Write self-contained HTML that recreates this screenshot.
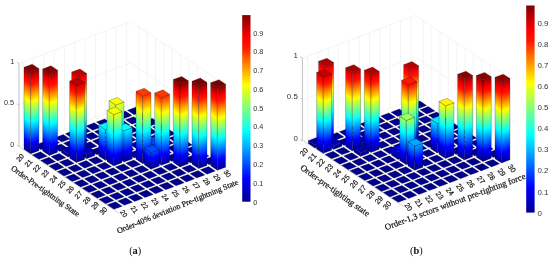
<!DOCTYPE html>
<html lang="en"><head><meta charset="utf-8"><title>MAC bar charts</title>
<style>html,body{margin:0;padding:0;background:#fff}svg{display:block}</style></head><body>
<svg width="550" height="261" viewBox="0 0 550 261">
<defs>
<linearGradient id="gla" gradientUnits="userSpaceOnUse" x1="-4.14" y1="1.56" x2="34.16" y2="-55.92"><stop offset="0" stop-color="#00008f"/><stop offset="0.125" stop-color="#0000ff"/><stop offset="0.375" stop-color="#00ffff"/><stop offset="0.625" stop-color="#ffff00"/><stop offset="0.75" stop-color="#ff7400"/><stop offset="0.83" stop-color="#ff1400"/><stop offset="0.885" stop-color="#fa0000"/><stop offset="1" stop-color="#800000"/></linearGradient>
<linearGradient id="gra" gradientUnits="userSpaceOnUse" x1="3.33" y1="2.22" x2="-24.07" y2="-70.44"><stop offset="0" stop-color="#00008f"/><stop offset="0.125" stop-color="#0000ff"/><stop offset="0.375" stop-color="#00ffff"/><stop offset="0.625" stop-color="#ffff00"/><stop offset="0.75" stop-color="#ff7400"/><stop offset="0.83" stop-color="#ff1400"/><stop offset="0.885" stop-color="#fa0000"/><stop offset="1" stop-color="#800000"/></linearGradient>
<linearGradient id="glb" gradientUnits="userSpaceOnUse" x1="-4.14" y1="1.57" x2="33.86" y2="-56.61"><stop offset="0" stop-color="#00008f"/><stop offset="0.125" stop-color="#0000ff"/><stop offset="0.375" stop-color="#00ffff"/><stop offset="0.625" stop-color="#ffff00"/><stop offset="0.75" stop-color="#ff7400"/><stop offset="0.83" stop-color="#ff1400"/><stop offset="0.885" stop-color="#fa0000"/><stop offset="1" stop-color="#800000"/></linearGradient>
<linearGradient id="grb" gradientUnits="userSpaceOnUse" x1="3.33" y1="2.18" x2="-24.23" y2="-70.35"><stop offset="0" stop-color="#00008f"/><stop offset="0.125" stop-color="#0000ff"/><stop offset="0.375" stop-color="#00ffff"/><stop offset="0.625" stop-color="#ffff00"/><stop offset="0.75" stop-color="#ff7400"/><stop offset="0.83" stop-color="#ff1400"/><stop offset="0.885" stop-color="#fa0000"/><stop offset="1" stop-color="#800000"/></linearGradient>
<linearGradient id="gc" x1="0" y1="1" x2="0" y2="0"><stop offset="0" stop-color="#00008f"/><stop offset="0.125" stop-color="#0000ff"/><stop offset="0.375" stop-color="#00ffff"/><stop offset="0.625" stop-color="#ffff00"/><stop offset="0.75" stop-color="#ff7400"/><stop offset="0.83" stop-color="#ff1400"/><stop offset="0.885" stop-color="#fa0000"/><stop offset="1" stop-color="#800000"/></linearGradient>
</defs>
<rect width="550" height="261" fill="#fff"/>
<g id="chart-a">
<g fill="none" stroke-linecap="butt">
<line x1="23.14" y1="144.94" x2="23.14" y2="61.94" stroke="#ededed" stroke-width="0.6"/>
<line x1="33.48" y1="141.04" x2="33.48" y2="58.04" stroke="#ededed" stroke-width="0.6"/>
<line x1="43.82" y1="137.14" x2="43.82" y2="54.14" stroke="#ededed" stroke-width="0.6"/>
<line x1="54.16" y1="133.24" x2="54.16" y2="50.24" stroke="#ededed" stroke-width="0.6"/>
<line x1="64.5" y1="129.34" x2="64.5" y2="46.34" stroke="#ededed" stroke-width="0.6"/>
<line x1="74.84" y1="125.44" x2="74.84" y2="42.44" stroke="#ededed" stroke-width="0.6"/>
<line x1="85.18" y1="121.54" x2="85.18" y2="38.54" stroke="#ededed" stroke-width="0.6"/>
<line x1="95.52" y1="117.64" x2="95.52" y2="34.64" stroke="#ededed" stroke-width="0.6"/>
<line x1="105.86" y1="113.74" x2="105.86" y2="30.74" stroke="#ededed" stroke-width="0.6"/>
<line x1="116.2" y1="109.84" x2="116.2" y2="26.84" stroke="#ededed" stroke-width="0.6"/>
<line x1="126.54" y1="105.94" x2="126.54" y2="22.94" stroke="#ededed" stroke-width="0.6"/>
<line x1="19" y1="146.5" x2="130.67" y2="104.38" stroke="#ededed" stroke-width="0.6"/>
<line x1="19" y1="105" x2="130.67" y2="62.88" stroke="#ededed" stroke-width="0.6"/>
<line x1="19" y1="63.5" x2="130.67" y2="21.38" stroke="#ededed" stroke-width="0.6"/>
<line x1="139" y1="109.93" x2="139" y2="26.93" stroke="#ededed" stroke-width="0.6"/>
<line x1="147.33" y1="115.48" x2="147.33" y2="32.48" stroke="#ededed" stroke-width="0.6"/>
<line x1="155.66" y1="121.03" x2="155.66" y2="38.03" stroke="#ededed" stroke-width="0.6"/>
<line x1="163.99" y1="126.58" x2="163.99" y2="43.58" stroke="#ededed" stroke-width="0.6"/>
<line x1="172.32" y1="132.13" x2="172.32" y2="49.13" stroke="#ededed" stroke-width="0.6"/>
<line x1="180.65" y1="137.68" x2="180.65" y2="54.68" stroke="#ededed" stroke-width="0.6"/>
<line x1="188.98" y1="143.23" x2="188.98" y2="60.23" stroke="#ededed" stroke-width="0.6"/>
<line x1="197.31" y1="148.78" x2="197.31" y2="65.78" stroke="#ededed" stroke-width="0.6"/>
<line x1="205.64" y1="154.33" x2="205.64" y2="71.33" stroke="#ededed" stroke-width="0.6"/>
<line x1="213.97" y1="159.88" x2="213.97" y2="76.88" stroke="#ededed" stroke-width="0.6"/>
<line x1="222.3" y1="165.43" x2="222.3" y2="82.43" stroke="#ededed" stroke-width="0.6"/>
<line x1="130.67" y1="104.38" x2="230.63" y2="170.98" stroke="#ededed" stroke-width="0.6"/>
<line x1="130.67" y1="62.88" x2="230.63" y2="129.48" stroke="#ededed" stroke-width="0.6"/>
<line x1="130.67" y1="21.38" x2="230.63" y2="87.98" stroke="#ededed" stroke-width="0.6"/>
<line x1="23.14" y1="144.94" x2="123.1" y2="211.54" stroke="#ededed" stroke-width="0.6"/>
<line x1="33.48" y1="141.04" x2="133.44" y2="207.64" stroke="#ededed" stroke-width="0.6"/>
<line x1="43.82" y1="137.14" x2="143.78" y2="203.74" stroke="#ededed" stroke-width="0.6"/>
<line x1="54.16" y1="133.24" x2="154.12" y2="199.84" stroke="#ededed" stroke-width="0.6"/>
<line x1="64.5" y1="129.34" x2="164.46" y2="195.94" stroke="#ededed" stroke-width="0.6"/>
<line x1="74.84" y1="125.44" x2="174.8" y2="192.04" stroke="#ededed" stroke-width="0.6"/>
<line x1="85.18" y1="121.54" x2="185.14" y2="188.14" stroke="#ededed" stroke-width="0.6"/>
<line x1="95.52" y1="117.64" x2="195.48" y2="184.24" stroke="#ededed" stroke-width="0.6"/>
<line x1="105.86" y1="113.74" x2="205.82" y2="180.34" stroke="#ededed" stroke-width="0.6"/>
<line x1="116.2" y1="109.84" x2="216.16" y2="176.44" stroke="#ededed" stroke-width="0.6"/>
<line x1="126.54" y1="105.94" x2="226.5" y2="172.54" stroke="#ededed" stroke-width="0.6"/>
<line x1="27.33" y1="152.05" x2="139" y2="109.93" stroke="#ededed" stroke-width="0.6"/>
<line x1="35.66" y1="157.6" x2="147.33" y2="115.48" stroke="#ededed" stroke-width="0.6"/>
<line x1="43.99" y1="163.15" x2="155.66" y2="121.03" stroke="#ededed" stroke-width="0.6"/>
<line x1="52.32" y1="168.7" x2="163.99" y2="126.58" stroke="#ededed" stroke-width="0.6"/>
<line x1="60.65" y1="174.25" x2="172.32" y2="132.13" stroke="#ededed" stroke-width="0.6"/>
<line x1="68.98" y1="179.8" x2="180.65" y2="137.68" stroke="#ededed" stroke-width="0.6"/>
<line x1="77.31" y1="185.35" x2="188.98" y2="143.23" stroke="#ededed" stroke-width="0.6"/>
<line x1="85.64" y1="190.9" x2="197.31" y2="148.78" stroke="#ededed" stroke-width="0.6"/>
<line x1="93.97" y1="196.45" x2="205.64" y2="154.33" stroke="#ededed" stroke-width="0.6"/>
<line x1="102.3" y1="202" x2="213.97" y2="159.88" stroke="#ededed" stroke-width="0.6"/>
<line x1="110.63" y1="207.55" x2="222.3" y2="165.43" stroke="#ededed" stroke-width="0.6"/>
<line x1="19" y1="146.5" x2="19" y2="63.5" stroke="#a8a8a8" stroke-width="0.7"/>
<line x1="19" y1="146.5" x2="118.96" y2="213.1" stroke="#b4b4b4" stroke-width="0.6"/>
<line x1="118.96" y1="213.1" x2="230.63" y2="170.98" stroke="#dedede" stroke-width="0.6"/>
<line x1="19" y1="146.5" x2="16.8" y2="145.2" stroke="#a8a8a8" stroke-width="0.6"/>
<line x1="19" y1="105" x2="16.8" y2="103.7" stroke="#a8a8a8" stroke-width="0.6"/>
<line x1="19" y1="63.5" x2="16.8" y2="62.2" stroke="#a8a8a8" stroke-width="0.6"/>
</g>
<g stroke="#000" stroke-width="0.35" stroke-opacity="0.7" stroke-linejoin="round">
<polygon transform="translate(134.87 110.99)" points="-7.47,-0.66 -0.8,3.78 7.47,0.66 0.8,-3.78" fill="#00008f"/>
<polygon transform="translate(124.53 114.89)" points="-7.47,-0.66 -0.8,3.78 7.47,0.66 0.8,-3.78" fill="#00008f"/>
<polygon transform="translate(143.2 116.54)" points="-7.47,-0.66 -0.8,3.78 7.47,0.66 0.8,-3.78" fill="#00008f"/>
<polygon transform="translate(114.19 118.79)" points="-7.47,-0.66 -0.8,3.78 7.47,0.66 0.8,-3.78" fill="#00008f"/>
<polygon transform="translate(132.86 120.44)" points="-7.47,-0.66 -0.8,3.78 7.47,0.66 0.8,-3.78" fill="#00008f"/>
<polygon transform="translate(151.53 122.09)" points="-7.47,-0.66 -0.8,3.78 7.47,0.66 0.8,-3.78" fill="#00008f"/>
<polygon transform="translate(103.85 122.69)" points="-7.47,-0.66 -0.8,3.78 7.47,0.66 0.8,-3.78" fill="#00008f"/>
<polygon transform="translate(122.52 124.34)" points="-7.47,-0.66 -0.8,3.78 7.47,0.66 0.8,-3.78" fill="#00008f"/>
<polygon transform="translate(141.19 125.99)" points="-7.47,-0.66 -0.8,3.78 7.47,0.66 0.8,-3.78" fill="#00008f"/>
<polygon transform="translate(159.86 127.64)" points="-7.47,-0.66 -0.8,3.78 7.47,0.66 0.8,-3.78" fill="#00008f"/>
<polygon transform="translate(93.51 126.59)" points="-7.47,-0.66 -0.8,3.78 7.47,0.66 0.8,-3.78" fill="#00008f"/>
<polygon transform="translate(112.18 128.24)" points="-7.47,-0.66 -0.8,3.78 7.47,0.66 0.8,-3.78" fill="#00008f"/>
<polygon transform="translate(130.85 129.89)" points="-7.47,-0.66 -0.8,3.78 7.47,0.66 0.8,-3.78" fill="#00008f"/>
<polygon transform="translate(149.52 131.54)" points="-7.47,-0.66 -0.8,3.78 7.47,0.66 0.8,-3.78" fill="#00008f"/>
<polygon transform="translate(168.19 133.19)" points="-7.47,-0.66 -0.8,3.78 7.47,0.66 0.8,-3.78" fill="#00008f"/>
<polygon transform="translate(83.17 130.49)" points="-7.47,-0.66 -0.8,3.78 7.47,0.66 0.8,-3.78" fill="#00008f"/>
<polygon transform="translate(101.84 132.14)" points="-7.47,-0.66 -0.8,3.78 7.47,0.66 0.8,-3.78" fill="#00008f"/>
<polygon transform="translate(120.51 133.79)" points="-7.47,-0.66 -0.8,3.78 7.47,0.66 0.8,-3.78" fill="#00008f"/>
<polygon transform="translate(139.18 135.44)" points="-7.47,-0.66 -0.8,3.78 7.47,0.66 0.8,-3.78" fill="#00008f"/>
<polygon transform="translate(157.85 137.09)" points="-7.47,-0.66 -0.8,3.78 7.47,0.66 0.8,-3.78" fill="#00008f"/>
<polygon transform="translate(176.52 138.74)" points="-7.47,-0.66 -0.8,3.78 7.47,0.66 0.8,-3.78" fill="#00008f"/>
<polygon transform="translate(72.83 134.39)" points="-7.47,-0.66 -0.8,3.78 7.47,0.66 0.8,-3.78" fill="#00008f"/>
<polygon transform="translate(91.5 136.04)" points="-7.47,-0.66 -0.8,3.78 7.47,0.66 0.8,-3.78" fill="#00008f"/>
<polygon transform="translate(110.17 137.69)" points="-7.47,-0.66 -0.8,3.78 7.47,0.66 0.8,-3.78" fill="#00008f"/>
<polygon transform="translate(128.84 139.34)" points="-7.47,-0.66 -0.8,3.78 7.47,0.66 0.8,-3.78" fill="#00008f"/>
<polygon transform="translate(147.51 140.99)" points="-7.47,-0.66 -0.8,3.78 7.47,0.66 0.8,-3.78" fill="#00008f"/>
<polygon transform="translate(166.18 142.64)" points="-7.47,-0.66 -0.8,3.78 7.47,0.66 0.8,-3.78" fill="#00008f"/>
<polygon transform="translate(184.85 144.29)" points="-7.47,-0.66 -0.8,3.78 7.47,0.66 0.8,-3.78" fill="#00008f"/>
<polygon transform="translate(62.49 138.29)" points="-7.47,-0.66 -0.8,3.78 7.47,0.66 0.8,-3.78" fill="#00008f"/>
<polygon transform="translate(81.16 139.94)" points="-7.47,-0.66 -0.8,3.78 7.47,0.66 0.8,-3.78" fill="#00008f"/>
<polygon transform="translate(99.83 141.59)" points="-7.47,-0.66 -0.8,3.78 7.47,0.66 0.8,-3.78" fill="#00008f"/>
<polygon transform="translate(118.5 143.24)" points="-7.47,-0.66 -0.8,3.78 7.47,0.66 0.8,-3.78" fill="#00008f"/>
<polygon transform="translate(137.17 144.89)" points="-7.47,-0.66 -0.8,3.78 7.47,0.66 0.8,-3.78" fill="#00008f"/>
<polygon transform="translate(155.84 146.54)" points="-7.47,-0.66 -0.8,3.78 7.47,0.66 0.8,-3.78" fill="#00008f"/>
<polygon transform="translate(174.51 148.19)" points="-7.47,-0.66 -0.8,3.78 7.47,0.66 0.8,-3.78" fill="#00008f"/>
<polygon transform="translate(193.18 149.84)" points="-7.47,-0.66 -0.8,3.78 7.47,0.66 0.8,-3.78" fill="#00008f"/>
<polygon transform="translate(52.15 142.19)" points="-7.47,-0.66 -0.8,3.78 7.47,0.66 0.8,-3.78" fill="#00008f"/>
<polygon transform="translate(70.82 143.84)" points="-7.47,-0.66 -0.8,3.78 7.47,0.66 0.8,-3.78" fill="#00008f"/>
<polygon transform="translate(89.49 145.49)" points="-7.47,-0.66 -0.8,3.78 7.47,0.66 0.8,-3.78" fill="#00008f"/>
<polygon transform="translate(108.16 147.14)" points="-7.47,-0.66 -0.8,3.78 7.47,0.66 0.8,-3.78" fill="#00008f"/>
<polygon transform="translate(126.83 148.79)" points="-7.47,-0.66 -0.8,3.78 7.47,0.66 0.8,-3.78" fill="#00008f"/>
<polygon transform="translate(145.5 150.44)" points="-7.47,-0.66 -0.8,3.78 7.47,0.66 0.8,-3.78" fill="#00008f"/>
<polygon transform="translate(164.17 152.09)" points="-7.47,-0.66 -0.8,3.78 7.47,0.66 0.8,-3.78" fill="#00008f"/>
<polygon transform="translate(182.84 153.74)" points="-7.47,-0.66 -0.8,3.78 7.47,0.66 0.8,-3.78" fill="#00008f"/>
<polygon transform="translate(201.51 155.39)" points="-7.47,-0.66 -0.8,3.78 7.47,0.66 0.8,-3.78" fill="#00008f"/>
<polygon transform="translate(41.81 146.09)" points="-7.47,-0.66 -0.8,3.78 7.47,0.66 0.8,-3.78" fill="#00008f"/>
<polygon transform="translate(60.48 147.74)" points="-7.47,-0.66 -0.8,3.78 7.47,0.66 0.8,-3.78" fill="#00008f"/>
<g transform="translate(79.15 149.39)">
<polygon points="-7.47,-0.66 -0.8,3.78 -0.8,-72.83 -7.47,-77.27" fill="url(#gla)"/>
<polygon points="-0.8,3.78 7.47,0.66 7.47,-75.95 -0.8,-72.83" fill="url(#gra)"/>
<polygon points="-7.47,-77.27 -0.8,-72.83 7.47,-75.95 0.8,-80.39" fill="#c20000"/>
</g>
<polygon transform="translate(97.82 151.04)" points="-7.47,-0.66 -0.8,3.78 7.47,0.66 0.8,-3.78" fill="#00008f"/>
<g transform="translate(116.49 152.69)">
<polygon points="-7.47,-0.66 -0.8,3.78 -0.8,-47.6 -7.47,-52.04" fill="url(#gla)"/>
<polygon points="-0.8,3.78 7.47,0.66 7.47,-50.72 -0.8,-47.6" fill="url(#gra)"/>
<polygon points="-7.47,-52.04 -0.8,-47.6 7.47,-50.72 0.8,-55.16" fill="#f9ff06"/>
</g>
<polygon transform="translate(135.16 154.34)" points="-7.47,-0.66 -0.8,3.78 7.47,0.66 0.8,-3.78" fill="#00008f"/>
<g transform="translate(153.83 155.99)">
<polygon points="-7.47,-0.66 -0.8,3.78 -0.8,-11.99 -7.47,-16.43" fill="url(#gla)"/>
<polygon points="-0.8,3.78 7.47,0.66 7.47,-15.11 -0.8,-11.99" fill="url(#gra)"/>
<polygon points="-7.47,-16.43 -0.8,-11.99 7.47,-15.11 0.8,-19.55" fill="#0042ff"/>
</g>
<polygon transform="translate(172.5 157.64)" points="-7.47,-0.66 -0.8,3.78 7.47,0.66 0.8,-3.78" fill="#00008f"/>
<polygon transform="translate(191.17 159.29)" points="-7.47,-0.66 -0.8,3.78 7.47,0.66 0.8,-3.78" fill="#00008f"/>
<polygon transform="translate(209.84 160.94)" points="-7.47,-0.66 -0.8,3.78 7.47,0.66 0.8,-3.78" fill="#00008f"/>
<g transform="translate(31.47 149.99)">
<polygon points="-7.47,-0.66 -0.8,3.78 -0.8,-78.22 -7.47,-82.66" fill="url(#gla)"/>
<polygon points="-0.8,3.78 7.47,0.66 7.47,-81.34 -0.8,-78.22" fill="url(#gra)"/>
<polygon points="-7.47,-82.66 -0.8,-78.22 7.47,-81.34 0.8,-85.78" fill="#830000"/>
</g>
<g transform="translate(50.14 151.64)">
<polygon points="-7.47,-0.66 -0.8,3.78 -0.8,-78.22 -7.47,-82.66" fill="url(#gla)"/>
<polygon points="-0.8,3.78 7.47,0.66 7.47,-81.34 -0.8,-78.22" fill="url(#gra)"/>
<polygon points="-7.47,-82.66 -0.8,-78.22 7.47,-81.34 0.8,-85.78" fill="#830000"/>
</g>
<g transform="translate(68.81 153.29)">
<polygon points="-7.47,-0.66 -0.8,3.78 -0.8,0.46 -7.47,-3.98" fill="url(#gla)"/>
<polygon points="-0.8,3.78 7.47,0.66 7.47,-2.66 -0.8,0.46" fill="url(#gra)"/>
<polygon points="-7.47,-3.98 -0.8,0.46 7.47,-2.66 0.8,-7.1" fill="#0000a8"/>
</g>
<g transform="translate(87.48 154.94)">
<polygon points="-7.47,-0.66 -0.8,3.78 -0.8,-0.79 -7.47,-5.23" fill="url(#gla)"/>
<polygon points="-0.8,3.78 7.47,0.66 7.47,-3.91 -0.8,-0.79" fill="url(#gra)"/>
<polygon points="-7.47,-5.23 -0.8,-0.79 7.47,-3.91 0.8,-8.35" fill="#0000b8"/>
</g>
<g transform="translate(106.15 156.59)">
<polygon points="-7.47,-0.66 -0.8,3.78 -0.8,-27.01 -7.47,-31.45" fill="url(#gla)"/>
<polygon points="-0.8,3.78 7.47,0.66 7.47,-30.13 -0.8,-27.01" fill="url(#gra)"/>
<polygon points="-7.47,-31.45 -0.8,-27.01 7.47,-30.13 0.8,-34.57" fill="#00fbff"/>
</g>
<g transform="translate(124.82 158.24)">
<polygon points="-7.47,-0.66 -0.8,3.78 -0.8,-27.34 -7.47,-31.79" fill="url(#gla)"/>
<polygon points="-0.8,3.78 7.47,0.66 7.47,-30.46 -0.8,-27.34" fill="url(#gra)"/>
<polygon points="-7.47,-31.79 -0.8,-27.34 7.47,-30.46 0.8,-34.91" fill="#00ffff"/>
</g>
<g transform="translate(143.49 159.89)">
<polygon points="-7.47,-0.66 -0.8,3.78 -0.8,-64.11 -7.47,-68.55" fill="url(#gla)"/>
<polygon points="-0.8,3.78 7.47,0.66 7.47,-67.23 -0.8,-64.11" fill="url(#gra)"/>
<polygon points="-7.47,-68.55 -0.8,-64.11 7.47,-67.23 0.8,-71.67" fill="#ff3a00"/>
</g>
<g transform="translate(162.16 161.54)">
<polygon points="-7.47,-0.66 -0.8,3.78 -0.8,-64.11 -7.47,-68.55" fill="url(#gla)"/>
<polygon points="-0.8,3.78 7.47,0.66 7.47,-67.23 -0.8,-64.11" fill="url(#gra)"/>
<polygon points="-7.47,-68.55 -0.8,-64.11 7.47,-67.23 0.8,-71.67" fill="#ff3a00"/>
</g>
<g transform="translate(180.83 163.19)">
<polygon points="-7.47,-0.66 -0.8,3.78 -0.8,-79.22 -7.47,-83.66" fill="url(#gla)"/>
<polygon points="-0.8,3.78 7.47,0.66 7.47,-82.34 -0.8,-79.22" fill="url(#gra)"/>
<polygon points="-7.47,-83.66 -0.8,-79.22 7.47,-82.34 0.8,-86.78" fill="#780000"/>
</g>
<g transform="translate(199.5 164.84)">
<polygon points="-7.47,-0.66 -0.8,3.78 -0.8,-79.22 -7.47,-83.66" fill="url(#gla)"/>
<polygon points="-0.8,3.78 7.47,0.66 7.47,-82.34 -0.8,-79.22" fill="url(#gra)"/>
<polygon points="-7.47,-83.66 -0.8,-79.22 7.47,-82.34 0.8,-86.78" fill="#780000"/>
</g>
<g transform="translate(218.17 166.49)">
<polygon points="-7.47,-0.66 -0.8,3.78 -0.8,-79.22 -7.47,-83.66" fill="url(#gla)"/>
<polygon points="-0.8,3.78 7.47,0.66 7.47,-82.34 -0.8,-79.22" fill="url(#gra)"/>
<polygon points="-7.47,-83.66 -0.8,-79.22 7.47,-82.34 0.8,-86.78" fill="#780000"/>
</g>
<polygon transform="translate(39.8 155.54)" points="-7.47,-0.66 -0.8,3.78 7.47,0.66 0.8,-3.78" fill="#00008f"/>
<polygon transform="translate(58.47 157.19)" points="-7.47,-0.66 -0.8,3.78 7.47,0.66 0.8,-3.78" fill="#00008f"/>
<g transform="translate(77.14 158.84)">
<polygon points="-7.47,-0.66 -0.8,3.78 -0.8,-73.33 -7.47,-77.77" fill="url(#gla)"/>
<polygon points="-0.8,3.78 7.47,0.66 7.47,-76.45 -0.8,-73.33" fill="url(#gra)"/>
<polygon points="-7.47,-77.77 -0.8,-73.33 7.47,-76.45 0.8,-80.89" fill="#bc0000"/>
</g>
<polygon transform="translate(95.81 160.49)" points="-7.47,-0.66 -0.8,3.78 7.47,0.66 0.8,-3.78" fill="#00008f"/>
<g transform="translate(114.48 162.14)">
<polygon points="-7.47,-0.66 -0.8,3.78 -0.8,-47.51 -7.47,-51.95" fill="url(#gla)"/>
<polygon points="-0.8,3.78 7.47,0.66 7.47,-50.63 -0.8,-47.51" fill="url(#gra)"/>
<polygon points="-7.47,-51.95 -0.8,-47.51 7.47,-50.63 0.8,-55.07" fill="#f8ff07"/>
</g>
<polygon transform="translate(133.15 163.79)" points="-7.47,-0.66 -0.8,3.78 7.47,0.66 0.8,-3.78" fill="#00008f"/>
<g transform="translate(151.82 165.44)">
<polygon points="-7.47,-0.66 -0.8,3.78 -0.8,-12.82 -7.47,-17.26" fill="url(#gla)"/>
<polygon points="-0.8,3.78 7.47,0.66 7.47,-15.94 -0.8,-12.82" fill="url(#gra)"/>
<polygon points="-7.47,-17.26 -0.8,-12.82 7.47,-15.94 0.8,-20.38" fill="#004dff"/>
</g>
<polygon transform="translate(170.49 167.09)" points="-7.47,-0.66 -0.8,3.78 7.47,0.66 0.8,-3.78" fill="#00008f"/>
<polygon transform="translate(189.16 168.74)" points="-7.47,-0.66 -0.8,3.78 7.47,0.66 0.8,-3.78" fill="#00008f"/>
<polygon transform="translate(207.83 170.39)" points="-7.47,-0.66 -0.8,3.78 7.47,0.66 0.8,-3.78" fill="#00008f"/>
<polygon transform="translate(48.13 161.09)" points="-7.47,-0.66 -0.8,3.78 7.47,0.66 0.8,-3.78" fill="#00008f"/>
<polygon transform="translate(66.8 162.74)" points="-7.47,-0.66 -0.8,3.78 7.47,0.66 0.8,-3.78" fill="#00008f"/>
<polygon transform="translate(85.47 164.39)" points="-7.47,-0.66 -0.8,3.78 7.47,0.66 0.8,-3.78" fill="#00008f"/>
<polygon transform="translate(104.14 166.04)" points="-7.47,-0.66 -0.8,3.78 7.47,0.66 0.8,-3.78" fill="#00008f"/>
<polygon transform="translate(122.81 167.69)" points="-7.47,-0.66 -0.8,3.78 7.47,0.66 0.8,-3.78" fill="#00008f"/>
<polygon transform="translate(141.48 169.34)" points="-7.47,-0.66 -0.8,3.78 7.47,0.66 0.8,-3.78" fill="#00008f"/>
<polygon transform="translate(160.15 170.99)" points="-7.47,-0.66 -0.8,3.78 7.47,0.66 0.8,-3.78" fill="#00008f"/>
<polygon transform="translate(178.82 172.64)" points="-7.47,-0.66 -0.8,3.78 7.47,0.66 0.8,-3.78" fill="#00008f"/>
<polygon transform="translate(197.49 174.29)" points="-7.47,-0.66 -0.8,3.78 7.47,0.66 0.8,-3.78" fill="#00008f"/>
<polygon transform="translate(56.46 166.64)" points="-7.47,-0.66 -0.8,3.78 7.47,0.66 0.8,-3.78" fill="#00008f"/>
<polygon transform="translate(75.13 168.29)" points="-7.47,-0.66 -0.8,3.78 7.47,0.66 0.8,-3.78" fill="#00008f"/>
<polygon transform="translate(93.8 169.94)" points="-7.47,-0.66 -0.8,3.78 7.47,0.66 0.8,-3.78" fill="#00008f"/>
<polygon transform="translate(112.47 171.59)" points="-7.47,-0.66 -0.8,3.78 7.47,0.66 0.8,-3.78" fill="#00008f"/>
<polygon transform="translate(131.14 173.24)" points="-7.47,-0.66 -0.8,3.78 7.47,0.66 0.8,-3.78" fill="#00008f"/>
<polygon transform="translate(149.81 174.89)" points="-7.47,-0.66 -0.8,3.78 7.47,0.66 0.8,-3.78" fill="#00008f"/>
<polygon transform="translate(168.48 176.54)" points="-7.47,-0.66 -0.8,3.78 7.47,0.66 0.8,-3.78" fill="#00008f"/>
<polygon transform="translate(187.15 178.19)" points="-7.47,-0.66 -0.8,3.78 7.47,0.66 0.8,-3.78" fill="#00008f"/>
<polygon transform="translate(64.79 172.19)" points="-7.47,-0.66 -0.8,3.78 7.47,0.66 0.8,-3.78" fill="#00008f"/>
<polygon transform="translate(83.46 173.84)" points="-7.47,-0.66 -0.8,3.78 7.47,0.66 0.8,-3.78" fill="#00008f"/>
<polygon transform="translate(102.13 175.49)" points="-7.47,-0.66 -0.8,3.78 7.47,0.66 0.8,-3.78" fill="#00008f"/>
<polygon transform="translate(120.8 177.14)" points="-7.47,-0.66 -0.8,3.78 7.47,0.66 0.8,-3.78" fill="#00008f"/>
<polygon transform="translate(139.47 178.79)" points="-7.47,-0.66 -0.8,3.78 7.47,0.66 0.8,-3.78" fill="#00008f"/>
<polygon transform="translate(158.14 180.44)" points="-7.47,-0.66 -0.8,3.78 7.47,0.66 0.8,-3.78" fill="#00008f"/>
<polygon transform="translate(176.81 182.09)" points="-7.47,-0.66 -0.8,3.78 7.47,0.66 0.8,-3.78" fill="#00008f"/>
<polygon transform="translate(73.12 177.74)" points="-7.47,-0.66 -0.8,3.78 7.47,0.66 0.8,-3.78" fill="#00008f"/>
<polygon transform="translate(91.79 179.39)" points="-7.47,-0.66 -0.8,3.78 7.47,0.66 0.8,-3.78" fill="#00008f"/>
<polygon transform="translate(110.46 181.04)" points="-7.47,-0.66 -0.8,3.78 7.47,0.66 0.8,-3.78" fill="#00008f"/>
<polygon transform="translate(129.13 182.69)" points="-7.47,-0.66 -0.8,3.78 7.47,0.66 0.8,-3.78" fill="#00008f"/>
<polygon transform="translate(147.8 184.34)" points="-7.47,-0.66 -0.8,3.78 7.47,0.66 0.8,-3.78" fill="#00008f"/>
<polygon transform="translate(166.47 185.99)" points="-7.47,-0.66 -0.8,3.78 7.47,0.66 0.8,-3.78" fill="#00008f"/>
<polygon transform="translate(81.45 183.29)" points="-7.47,-0.66 -0.8,3.78 7.47,0.66 0.8,-3.78" fill="#00008f"/>
<polygon transform="translate(100.12 184.94)" points="-7.47,-0.66 -0.8,3.78 7.47,0.66 0.8,-3.78" fill="#00008f"/>
<polygon transform="translate(118.79 186.59)" points="-7.47,-0.66 -0.8,3.78 7.47,0.66 0.8,-3.78" fill="#00008f"/>
<polygon transform="translate(137.46 188.24)" points="-7.47,-0.66 -0.8,3.78 7.47,0.66 0.8,-3.78" fill="#00008f"/>
<polygon transform="translate(156.13 189.89)" points="-7.47,-0.66 -0.8,3.78 7.47,0.66 0.8,-3.78" fill="#00008f"/>
<polygon transform="translate(89.78 188.84)" points="-7.47,-0.66 -0.8,3.78 7.47,0.66 0.8,-3.78" fill="#00008f"/>
<polygon transform="translate(108.45 190.49)" points="-7.47,-0.66 -0.8,3.78 7.47,0.66 0.8,-3.78" fill="#00008f"/>
<polygon transform="translate(127.12 192.14)" points="-7.47,-0.66 -0.8,3.78 7.47,0.66 0.8,-3.78" fill="#00008f"/>
<polygon transform="translate(145.79 193.79)" points="-7.47,-0.66 -0.8,3.78 7.47,0.66 0.8,-3.78" fill="#00008f"/>
<polygon transform="translate(98.11 194.39)" points="-7.47,-0.66 -0.8,3.78 7.47,0.66 0.8,-3.78" fill="#00008f"/>
<polygon transform="translate(116.78 196.04)" points="-7.47,-0.66 -0.8,3.78 7.47,0.66 0.8,-3.78" fill="#00008f"/>
<polygon transform="translate(135.45 197.69)" points="-7.47,-0.66 -0.8,3.78 7.47,0.66 0.8,-3.78" fill="#00008f"/>
<polygon transform="translate(106.44 199.94)" points="-7.47,-0.66 -0.8,3.78 7.47,0.66 0.8,-3.78" fill="#00008f"/>
<polygon transform="translate(125.11 201.59)" points="-7.47,-0.66 -0.8,3.78 7.47,0.66 0.8,-3.78" fill="#00008f"/>
<polygon transform="translate(114.77 205.49)" points="-7.47,-0.66 -0.8,3.78 7.47,0.66 0.8,-3.78" fill="#00008f"/>
</g>
<g font-family="'Liberation Sans', Arial, sans-serif" font-size="6.9" fill="#111" stroke="#111" stroke-width="0.18">
<text x="14.2" y="146.88" text-anchor="end" fill="#333" stroke="none" font-size="7.3">0</text>
<text x="14.2" y="105.38" text-anchor="end" fill="#333" stroke="none" font-size="7.3">0.5</text>
<text x="14.2" y="63.88" text-anchor="end" fill="#333" stroke="none" font-size="7.3">1</text>
<text transform="translate(22.83 155.05) rotate(-47)" text-anchor="end" y="2.2">20</text>
<text transform="translate(31.16 160.37) rotate(-47)" text-anchor="end" y="2.2">21</text>
<text transform="translate(39.49 165.69) rotate(-47)" text-anchor="end" y="2.2">22</text>
<text transform="translate(47.82 171.01) rotate(-47)" text-anchor="end" y="2.2">23</text>
<text transform="translate(56.15 176.33) rotate(-47)" text-anchor="end" y="2.2">24</text>
<text transform="translate(64.48 181.65) rotate(-47)" text-anchor="end" y="2.2">25</text>
<text transform="translate(72.81 186.97) rotate(-47)" text-anchor="end" y="2.2">26</text>
<text transform="translate(81.14 192.29) rotate(-47)" text-anchor="end" y="2.2">27</text>
<text transform="translate(89.47 197.61) rotate(-47)" text-anchor="end" y="2.2">28</text>
<text transform="translate(97.8 202.93) rotate(-47)" text-anchor="end" y="2.2">29</text>
<text transform="translate(106.13 208.25) rotate(-47)" text-anchor="end" y="2.2">30</text>
<text transform="translate(121.6 210.64) rotate(52)" y="2.2" font-size="6.6">20</text>
<text transform="translate(131.94 206.64) rotate(52)" y="2.2" font-size="6.6">21</text>
<text transform="translate(142.28 202.64) rotate(52)" y="2.2" font-size="6.6">22</text>
<text transform="translate(152.62 198.64) rotate(52)" y="2.2" font-size="6.6">23</text>
<text transform="translate(162.96 194.64) rotate(52)" y="2.2" font-size="6.6">24</text>
<text transform="translate(173.3 190.64) rotate(52)" y="2.2" font-size="6.6">25</text>
<text transform="translate(183.64 186.64) rotate(52)" y="2.2" font-size="6.6">26</text>
<text transform="translate(193.98 182.64) rotate(52)" y="2.2" font-size="6.6">27</text>
<text transform="translate(204.32 178.64) rotate(52)" y="2.2" font-size="6.6">28</text>
<text transform="translate(214.66 174.64) rotate(52)" y="2.2" font-size="6.6">29</text>
<text transform="translate(225 170.64) rotate(52)" y="2.2" font-size="6.6">30</text>
</g>
<g font-family="'Liberation Serif', 'Times New Roman', serif" font-size="8.05" fill="#111" stroke="#111" stroke-width="0.2" text-anchor="middle">
<text transform="translate(45.3 191.2) rotate(35.3)" y="2.4">Order-Pre-tightning State</text>
<text transform="translate(177.6 206.7) rotate(-22.4)" y="2.4">Order-40% deviation Pre-tightning State</text>
</g>
<rect x="242.2" y="15.1" width="8.3" height="186.6" fill="url(#gc)"/>
<g font-family="'Liberation Sans', Arial, sans-serif" font-size="7.3" fill="#333">
<text x="253.2" y="204.6">0</text>
<text x="253.2" y="185.82">0.1</text>
<text x="253.2" y="167.04">0.2</text>
<text x="253.2" y="148.26">0.3</text>
<text x="253.2" y="129.48">0.4</text>
<text x="253.2" y="110.7">0.5</text>
<text x="253.2" y="91.92">0.6</text>
<text x="253.2" y="73.14">0.7</text>
<text x="253.2" y="54.36">0.8</text>
<text x="253.2" y="35.58">0.9</text>
</g>
<text x="135.2" y="253.5" text-anchor="middle" font-family="'Liberation Serif', serif" font-size="10.4" fill="#111">(<tspan font-weight="bold">a</tspan>)</text>
</g>
<g id="chart-b">
<g fill="none" stroke-linecap="butt">
<line x1="307.54" y1="139.33" x2="307.54" y2="56.33" stroke="#ededed" stroke-width="0.6"/>
<line x1="317.88" y1="135.4" x2="317.88" y2="52.4" stroke="#ededed" stroke-width="0.6"/>
<line x1="328.22" y1="131.47" x2="328.22" y2="48.47" stroke="#ededed" stroke-width="0.6"/>
<line x1="338.56" y1="127.54" x2="338.56" y2="44.54" stroke="#ededed" stroke-width="0.6"/>
<line x1="348.9" y1="123.61" x2="348.9" y2="40.61" stroke="#ededed" stroke-width="0.6"/>
<line x1="359.24" y1="119.68" x2="359.24" y2="36.68" stroke="#ededed" stroke-width="0.6"/>
<line x1="369.58" y1="115.75" x2="369.58" y2="32.75" stroke="#ededed" stroke-width="0.6"/>
<line x1="379.92" y1="111.82" x2="379.92" y2="28.82" stroke="#ededed" stroke-width="0.6"/>
<line x1="390.26" y1="107.89" x2="390.26" y2="24.89" stroke="#ededed" stroke-width="0.6"/>
<line x1="400.6" y1="103.96" x2="400.6" y2="20.96" stroke="#ededed" stroke-width="0.6"/>
<line x1="410.94" y1="100.03" x2="410.94" y2="17.03" stroke="#ededed" stroke-width="0.6"/>
<line x1="303.4" y1="140.9" x2="415.07" y2="98.46" stroke="#ededed" stroke-width="0.6"/>
<line x1="303.4" y1="99.4" x2="415.07" y2="56.96" stroke="#ededed" stroke-width="0.6"/>
<line x1="303.4" y1="57.9" x2="415.07" y2="15.46" stroke="#ededed" stroke-width="0.6"/>
<line x1="423.4" y1="103.9" x2="423.4" y2="20.9" stroke="#ededed" stroke-width="0.6"/>
<line x1="431.73" y1="109.34" x2="431.73" y2="26.34" stroke="#ededed" stroke-width="0.6"/>
<line x1="440.06" y1="114.78" x2="440.06" y2="31.78" stroke="#ededed" stroke-width="0.6"/>
<line x1="448.39" y1="120.22" x2="448.39" y2="37.22" stroke="#ededed" stroke-width="0.6"/>
<line x1="456.72" y1="125.66" x2="456.72" y2="42.66" stroke="#ededed" stroke-width="0.6"/>
<line x1="465.05" y1="131.1" x2="465.05" y2="48.1" stroke="#ededed" stroke-width="0.6"/>
<line x1="473.38" y1="136.54" x2="473.38" y2="53.54" stroke="#ededed" stroke-width="0.6"/>
<line x1="481.71" y1="141.98" x2="481.71" y2="58.98" stroke="#ededed" stroke-width="0.6"/>
<line x1="490.04" y1="147.42" x2="490.04" y2="64.42" stroke="#ededed" stroke-width="0.6"/>
<line x1="498.37" y1="152.86" x2="498.37" y2="69.86" stroke="#ededed" stroke-width="0.6"/>
<line x1="506.7" y1="158.3" x2="506.7" y2="75.3" stroke="#ededed" stroke-width="0.6"/>
<line x1="415.07" y1="98.46" x2="515.03" y2="163.74" stroke="#ededed" stroke-width="0.6"/>
<line x1="415.07" y1="56.96" x2="515.03" y2="122.24" stroke="#ededed" stroke-width="0.6"/>
<line x1="415.07" y1="15.46" x2="515.03" y2="80.74" stroke="#ededed" stroke-width="0.6"/>
<line x1="307.54" y1="139.33" x2="407.5" y2="204.61" stroke="#ededed" stroke-width="0.6"/>
<line x1="317.88" y1="135.4" x2="417.84" y2="200.68" stroke="#ededed" stroke-width="0.6"/>
<line x1="328.22" y1="131.47" x2="428.18" y2="196.75" stroke="#ededed" stroke-width="0.6"/>
<line x1="338.56" y1="127.54" x2="438.52" y2="192.82" stroke="#ededed" stroke-width="0.6"/>
<line x1="348.9" y1="123.61" x2="448.86" y2="188.89" stroke="#ededed" stroke-width="0.6"/>
<line x1="359.24" y1="119.68" x2="459.2" y2="184.96" stroke="#ededed" stroke-width="0.6"/>
<line x1="369.58" y1="115.75" x2="469.54" y2="181.03" stroke="#ededed" stroke-width="0.6"/>
<line x1="379.92" y1="111.82" x2="479.88" y2="177.1" stroke="#ededed" stroke-width="0.6"/>
<line x1="390.26" y1="107.89" x2="490.22" y2="173.17" stroke="#ededed" stroke-width="0.6"/>
<line x1="400.6" y1="103.96" x2="500.56" y2="169.24" stroke="#ededed" stroke-width="0.6"/>
<line x1="410.94" y1="100.03" x2="510.9" y2="165.31" stroke="#ededed" stroke-width="0.6"/>
<line x1="311.73" y1="146.34" x2="423.4" y2="103.9" stroke="#ededed" stroke-width="0.6"/>
<line x1="320.06" y1="151.78" x2="431.73" y2="109.34" stroke="#ededed" stroke-width="0.6"/>
<line x1="328.39" y1="157.22" x2="440.06" y2="114.78" stroke="#ededed" stroke-width="0.6"/>
<line x1="336.72" y1="162.66" x2="448.39" y2="120.22" stroke="#ededed" stroke-width="0.6"/>
<line x1="345.05" y1="168.1" x2="456.72" y2="125.66" stroke="#ededed" stroke-width="0.6"/>
<line x1="353.38" y1="173.54" x2="465.05" y2="131.1" stroke="#ededed" stroke-width="0.6"/>
<line x1="361.71" y1="178.98" x2="473.38" y2="136.54" stroke="#ededed" stroke-width="0.6"/>
<line x1="370.04" y1="184.42" x2="481.71" y2="141.98" stroke="#ededed" stroke-width="0.6"/>
<line x1="378.37" y1="189.86" x2="490.04" y2="147.42" stroke="#ededed" stroke-width="0.6"/>
<line x1="386.7" y1="195.3" x2="498.37" y2="152.86" stroke="#ededed" stroke-width="0.6"/>
<line x1="395.03" y1="200.74" x2="506.7" y2="158.3" stroke="#ededed" stroke-width="0.6"/>
<line x1="302.4" y1="140.9" x2="302.4" y2="57.9" stroke="#a8a8a8" stroke-width="0.7"/>
<line x1="303.4" y1="140.9" x2="403.36" y2="206.18" stroke="#b4b4b4" stroke-width="0.6"/>
<line x1="403.36" y1="206.18" x2="515.03" y2="163.74" stroke="#dedede" stroke-width="0.6"/>
<line x1="302.4" y1="140.9" x2="300.2" y2="139.6" stroke="#a8a8a8" stroke-width="0.6"/>
<line x1="302.4" y1="99.4" x2="300.2" y2="98.1" stroke="#a8a8a8" stroke-width="0.6"/>
<line x1="302.4" y1="57.9" x2="300.2" y2="56.6" stroke="#a8a8a8" stroke-width="0.6"/>
</g>
<g stroke="#000" stroke-width="0.35" stroke-opacity="0.7" stroke-linejoin="round">
<polygon transform="translate(419.17 104.87)" points="-7.47,-0.6 -0.8,3.75 7.47,0.6 0.8,-3.75" fill="#00008f"/>
<polygon transform="translate(408.83 108.8)" points="-7.47,-0.6 -0.8,3.75 7.47,0.6 0.8,-3.75" fill="#00008f"/>
<polygon transform="translate(427.5 110.31)" points="-7.47,-0.6 -0.8,3.75 7.47,0.6 0.8,-3.75" fill="#00008f"/>
<polygon transform="translate(398.49 112.73)" points="-7.47,-0.6 -0.8,3.75 7.47,0.6 0.8,-3.75" fill="#00008f"/>
<polygon transform="translate(417.16 114.24)" points="-7.47,-0.6 -0.8,3.75 7.47,0.6 0.8,-3.75" fill="#00008f"/>
<polygon transform="translate(435.83 115.75)" points="-7.47,-0.6 -0.8,3.75 7.47,0.6 0.8,-3.75" fill="#00008f"/>
<polygon transform="translate(388.15 116.66)" points="-7.47,-0.6 -0.8,3.75 7.47,0.6 0.8,-3.75" fill="#00008f"/>
<polygon transform="translate(406.82 118.17)" points="-7.47,-0.6 -0.8,3.75 7.47,0.6 0.8,-3.75" fill="#00008f"/>
<polygon transform="translate(425.49 119.68)" points="-7.47,-0.6 -0.8,3.75 7.47,0.6 0.8,-3.75" fill="#00008f"/>
<polygon transform="translate(444.16 121.19)" points="-7.47,-0.6 -0.8,3.75 7.47,0.6 0.8,-3.75" fill="#00008f"/>
<polygon transform="translate(377.81 120.59)" points="-7.47,-0.6 -0.8,3.75 7.47,0.6 0.8,-3.75" fill="#00008f"/>
<polygon transform="translate(396.48 122.1)" points="-7.47,-0.6 -0.8,3.75 7.47,0.6 0.8,-3.75" fill="#00008f"/>
<polygon transform="translate(415.15 123.61)" points="-7.47,-0.6 -0.8,3.75 7.47,0.6 0.8,-3.75" fill="#00008f"/>
<polygon transform="translate(433.82 125.12)" points="-7.47,-0.6 -0.8,3.75 7.47,0.6 0.8,-3.75" fill="#00008f"/>
<polygon transform="translate(452.49 126.63)" points="-7.47,-0.6 -0.8,3.75 7.47,0.6 0.8,-3.75" fill="#00008f"/>
<polygon transform="translate(367.47 124.52)" points="-7.47,-0.6 -0.8,3.75 7.47,0.6 0.8,-3.75" fill="#00008f"/>
<polygon transform="translate(386.14 126.03)" points="-7.47,-0.6 -0.8,3.75 7.47,0.6 0.8,-3.75" fill="#00008f"/>
<polygon transform="translate(404.81 127.54)" points="-7.47,-0.6 -0.8,3.75 7.47,0.6 0.8,-3.75" fill="#00008f"/>
<polygon transform="translate(423.48 129.05)" points="-7.47,-0.6 -0.8,3.75 7.47,0.6 0.8,-3.75" fill="#00008f"/>
<polygon transform="translate(442.15 130.56)" points="-7.47,-0.6 -0.8,3.75 7.47,0.6 0.8,-3.75" fill="#00008f"/>
<polygon transform="translate(460.82 132.07)" points="-7.47,-0.6 -0.8,3.75 7.47,0.6 0.8,-3.75" fill="#00008f"/>
<polygon transform="translate(357.13 128.45)" points="-7.47,-0.6 -0.8,3.75 7.47,0.6 0.8,-3.75" fill="#00008f"/>
<polygon transform="translate(375.8 129.96)" points="-7.47,-0.6 -0.8,3.75 7.47,0.6 0.8,-3.75" fill="#00008f"/>
<polygon transform="translate(394.47 131.47)" points="-7.47,-0.6 -0.8,3.75 7.47,0.6 0.8,-3.75" fill="#00008f"/>
<polygon transform="translate(413.14 132.98)" points="-7.47,-0.6 -0.8,3.75 7.47,0.6 0.8,-3.75" fill="#00008f"/>
<polygon transform="translate(431.81 134.49)" points="-7.47,-0.6 -0.8,3.75 7.47,0.6 0.8,-3.75" fill="#00008f"/>
<polygon transform="translate(450.48 136)" points="-7.47,-0.6 -0.8,3.75 7.47,0.6 0.8,-3.75" fill="#00008f"/>
<polygon transform="translate(469.15 137.51)" points="-7.47,-0.6 -0.8,3.75 7.47,0.6 0.8,-3.75" fill="#00008f"/>
<polygon transform="translate(346.79 132.38)" points="-7.47,-0.6 -0.8,3.75 7.47,0.6 0.8,-3.75" fill="#00008f"/>
<polygon transform="translate(365.46 133.89)" points="-7.47,-0.6 -0.8,3.75 7.47,0.6 0.8,-3.75" fill="#00008f"/>
<polygon transform="translate(384.13 135.4)" points="-7.47,-0.6 -0.8,3.75 7.47,0.6 0.8,-3.75" fill="#00008f"/>
<polygon transform="translate(402.8 136.91)" points="-7.47,-0.6 -0.8,3.75 7.47,0.6 0.8,-3.75" fill="#00008f"/>
<polygon transform="translate(421.47 138.42)" points="-7.47,-0.6 -0.8,3.75 7.47,0.6 0.8,-3.75" fill="#00008f"/>
<polygon transform="translate(440.14 139.93)" points="-7.47,-0.6 -0.8,3.75 7.47,0.6 0.8,-3.75" fill="#00008f"/>
<polygon transform="translate(458.81 141.44)" points="-7.47,-0.6 -0.8,3.75 7.47,0.6 0.8,-3.75" fill="#00008f"/>
<polygon transform="translate(477.48 142.95)" points="-7.47,-0.6 -0.8,3.75 7.47,0.6 0.8,-3.75" fill="#00008f"/>
<polygon transform="translate(336.45 136.31)" points="-7.47,-0.6 -0.8,3.75 7.47,0.6 0.8,-3.75" fill="#00008f"/>
<polygon transform="translate(355.12 137.82)" points="-7.47,-0.6 -0.8,3.75 7.47,0.6 0.8,-3.75" fill="#00008f"/>
<polygon transform="translate(373.79 139.33)" points="-7.47,-0.6 -0.8,3.75 7.47,0.6 0.8,-3.75" fill="#00008f"/>
<polygon transform="translate(392.46 140.84)" points="-7.47,-0.6 -0.8,3.75 7.47,0.6 0.8,-3.75" fill="#00008f"/>
<g transform="translate(411.13 142.35)">
<polygon points="-7.47,-0.6 -0.8,3.75 -0.8,-73.36 -7.47,-77.71" fill="url(#glb)"/>
<polygon points="-0.8,3.75 7.47,0.6 7.47,-76.5 -0.8,-73.36" fill="url(#grb)"/>
<polygon points="-7.47,-77.71 -0.8,-73.36 7.47,-76.5 0.8,-80.86" fill="#bc0000"/>
</g>
<polygon transform="translate(429.8 143.86)" points="-7.47,-0.6 -0.8,3.75 7.47,0.6 0.8,-3.75" fill="#00008f"/>
<polygon transform="translate(448.47 145.37)" points="-7.47,-0.6 -0.8,3.75 7.47,0.6 0.8,-3.75" fill="#00008f"/>
<polygon transform="translate(467.14 146.88)" points="-7.47,-0.6 -0.8,3.75 7.47,0.6 0.8,-3.75" fill="#00008f"/>
<polygon transform="translate(485.81 148.39)" points="-7.47,-0.6 -0.8,3.75 7.47,0.6 0.8,-3.75" fill="#00008f"/>
<g transform="translate(326.11 140.24)">
<polygon points="-7.47,-0.6 -0.8,3.75 -0.8,-74.52 -7.47,-78.87" fill="url(#glb)"/>
<polygon points="-0.8,3.75 7.47,0.6 7.47,-77.66 -0.8,-74.52" fill="url(#grb)"/>
<polygon points="-7.47,-78.87 -0.8,-74.52 7.47,-77.66 0.8,-82.02" fill="#af0000"/>
</g>
<polygon transform="translate(344.78 141.75)" points="-7.47,-0.6 -0.8,3.75 7.47,0.6 0.8,-3.75" fill="#00008f"/>
<g transform="translate(363.45 143.26)">
<polygon points="-7.47,-0.6 -0.8,3.75 -0.8,0.01 -7.47,-4.34" fill="url(#glb)"/>
<polygon points="-0.8,3.75 7.47,0.6 7.47,-3.13 -0.8,0.01" fill="url(#grb)"/>
<polygon points="-7.47,-4.34 -0.8,0.01 7.47,-3.13 0.8,-7.48" fill="#0000ad"/>
</g>
<polygon transform="translate(382.12 144.77)" points="-7.47,-0.6 -0.8,3.75 7.47,0.6 0.8,-3.75" fill="#00008f"/>
<polygon transform="translate(400.79 146.28)" points="-7.47,-0.6 -0.8,3.75 7.47,0.6 0.8,-3.75" fill="#00008f"/>
<polygon transform="translate(419.46 147.79)" points="-7.47,-0.6 -0.8,3.75 7.47,0.6 0.8,-3.75" fill="#00008f"/>
<g transform="translate(438.13 149.3)">
<polygon points="-7.47,-0.6 -0.8,3.75 -0.8,-25.72 -7.47,-30.07" fill="url(#glb)"/>
<polygon points="-0.8,3.75 7.47,0.6 7.47,-28.86 -0.8,-25.72" fill="url(#grb)"/>
<polygon points="-7.47,-30.07 -0.8,-25.72 7.47,-28.86 0.8,-33.21" fill="#00ebff"/>
</g>
<polygon transform="translate(456.8 150.81)" points="-7.47,-0.6 -0.8,3.75 7.47,0.6 0.8,-3.75" fill="#00008f"/>
<polygon transform="translate(475.47 152.32)" points="-7.47,-0.6 -0.8,3.75 7.47,0.6 0.8,-3.75" fill="#00008f"/>
<polygon transform="translate(494.14 153.83)" points="-7.47,-0.6 -0.8,3.75 7.47,0.6 0.8,-3.75" fill="#00008f"/>
<g transform="translate(315.77 144.17)">
<polygon points="-7.47,-0.6 -0.8,3.75 -0.8,0.84 -7.47,-3.51" fill="url(#glb)"/>
<polygon points="-0.8,3.75 7.47,0.6 7.47,-2.3 -0.8,0.84" fill="url(#grb)"/>
<polygon points="-7.47,-3.51 -0.8,0.84 7.47,-2.3 0.8,-6.65" fill="#0000a3"/>
</g>
<g transform="translate(334.44 145.68)">
<polygon points="-7.47,-0.6 -0.8,3.75 -0.8,0.01 -7.47,-4.34" fill="url(#glb)"/>
<polygon points="-0.8,3.75 7.47,0.6 7.47,-3.13 -0.8,0.01" fill="url(#grb)"/>
<polygon points="-7.47,-4.34 -0.8,0.01 7.47,-3.13 0.8,-7.48" fill="#0000ad"/>
</g>
<g transform="translate(353.11 147.19)">
<polygon points="-7.47,-0.6 -0.8,3.75 -0.8,-75.02 -7.47,-79.37" fill="url(#glb)"/>
<polygon points="-0.8,3.75 7.47,0.6 7.47,-78.16 -0.8,-75.02" fill="url(#grb)"/>
<polygon points="-7.47,-79.37 -0.8,-75.02 7.47,-78.16 0.8,-82.52" fill="#a90000"/>
</g>
<g transform="translate(371.78 148.7)">
<polygon points="-7.47,-0.6 -0.8,3.75 -0.8,-74.11 -7.47,-78.46" fill="url(#glb)"/>
<polygon points="-0.8,3.75 7.47,0.6 7.47,-77.25 -0.8,-74.11" fill="url(#grb)"/>
<polygon points="-7.47,-78.46 -0.8,-74.11 7.47,-77.25 0.8,-81.6" fill="#b30000"/>
</g>
<polygon transform="translate(390.45 150.21)" points="-7.47,-0.6 -0.8,3.75 7.47,0.6 0.8,-3.75" fill="#00008f"/>
<g transform="translate(409.12 151.72)">
<polygon points="-7.47,-0.6 -0.8,3.75 -0.8,-67.05 -7.47,-71.4" fill="url(#glb)"/>
<polygon points="-0.8,3.75 7.47,0.6 7.47,-70.19 -0.8,-67.05" fill="url(#grb)"/>
<polygon points="-7.47,-71.4 -0.8,-67.05 7.47,-70.19 0.8,-74.55" fill="#ff1600"/>
</g>
<polygon transform="translate(427.79 153.23)" points="-7.47,-0.6 -0.8,3.75 7.47,0.6 0.8,-3.75" fill="#00008f"/>
<g transform="translate(446.46 154.74)">
<polygon points="-7.47,-0.6 -0.8,3.75 -0.8,-48.87 -7.47,-53.23" fill="url(#glb)"/>
<polygon points="-0.8,3.75 7.47,0.6 7.47,-52.02 -0.8,-48.87" fill="url(#grb)"/>
<polygon points="-7.47,-53.23 -0.8,-48.87 7.47,-52.02 0.8,-56.37" fill="#fff600"/>
</g>
<g transform="translate(465.13 156.25)">
<polygon points="-7.47,-0.6 -0.8,3.75 -0.8,-77.59 -7.47,-81.94" fill="url(#glb)"/>
<polygon points="-0.8,3.75 7.47,0.6 7.47,-80.74 -0.8,-77.59" fill="url(#grb)"/>
<polygon points="-7.47,-81.94 -0.8,-77.59 7.47,-80.74 0.8,-85.09" fill="#8b0000"/>
</g>
<g transform="translate(483.8 157.76)">
<polygon points="-7.47,-0.6 -0.8,3.75 -0.8,-77.84 -7.47,-82.19" fill="url(#glb)"/>
<polygon points="-0.8,3.75 7.47,0.6 7.47,-80.98 -0.8,-77.84" fill="url(#grb)"/>
<polygon points="-7.47,-82.19 -0.8,-77.84 7.47,-80.98 0.8,-85.34" fill="#880000"/>
</g>
<g transform="translate(502.47 159.27)">
<polygon points="-7.47,-0.6 -0.8,3.75 -0.8,-77.59 -7.47,-81.94" fill="url(#glb)"/>
<polygon points="-0.8,3.75 7.47,0.6 7.47,-80.74 -0.8,-77.59" fill="url(#grb)"/>
<polygon points="-7.47,-81.94 -0.8,-77.59 7.47,-80.74 0.8,-85.09" fill="#8b0000"/>
</g>
<g transform="translate(324.1 149.61)">
<polygon points="-7.47,-0.6 -0.8,3.75 -0.8,-72.69 -7.47,-77.05" fill="url(#glb)"/>
<polygon points="-0.8,3.75 7.47,0.6 7.47,-75.84 -0.8,-72.69" fill="url(#grb)"/>
<polygon points="-7.47,-77.05 -0.8,-72.69 7.47,-75.84 0.8,-80.19" fill="#c40000"/>
</g>
<polygon transform="translate(342.77 151.12)" points="-7.47,-0.6 -0.8,3.75 7.47,0.6 0.8,-3.75" fill="#00008f"/>
<g transform="translate(361.44 152.63)">
<polygon points="-7.47,-0.6 -0.8,3.75 -0.8,0.01 -7.47,-4.34" fill="url(#glb)"/>
<polygon points="-0.8,3.75 7.47,0.6 7.47,-3.13 -0.8,0.01" fill="url(#grb)"/>
<polygon points="-7.47,-4.34 -0.8,0.01 7.47,-3.13 0.8,-7.48" fill="#0000ad"/>
</g>
<polygon transform="translate(380.11 154.14)" points="-7.47,-0.6 -0.8,3.75 7.47,0.6 0.8,-3.75" fill="#00008f"/>
<g transform="translate(398.78 155.65)">
<polygon points="-7.47,-0.6 -0.8,3.75 -0.8,-3.72 -7.47,-8.07" fill="url(#glb)"/>
<polygon points="-0.8,3.75 7.47,0.6 7.47,-6.87 -0.8,-3.72" fill="url(#grb)"/>
<polygon points="-7.47,-8.07 -0.8,-3.72 7.47,-6.87 0.8,-11.22" fill="#0000db"/>
</g>
<polygon transform="translate(417.45 157.16)" points="-7.47,-0.6 -0.8,3.75 7.47,0.6 0.8,-3.75" fill="#00008f"/>
<polygon transform="translate(436.12 158.67)" points="-7.47,-0.6 -0.8,3.75 7.47,0.6 0.8,-3.75" fill="#00008f"/>
<polygon transform="translate(454.79 160.18)" points="-7.47,-0.6 -0.8,3.75 7.47,0.6 0.8,-3.75" fill="#00008f"/>
<polygon transform="translate(473.46 161.69)" points="-7.47,-0.6 -0.8,3.75 7.47,0.6 0.8,-3.75" fill="#00008f"/>
<polygon transform="translate(492.13 163.2)" points="-7.47,-0.6 -0.8,3.75 7.47,0.6 0.8,-3.75" fill="#00008f"/>
<polygon transform="translate(332.43 155.05)" points="-7.47,-0.6 -0.8,3.75 7.47,0.6 0.8,-3.75" fill="#00008f"/>
<polygon transform="translate(351.1 156.56)" points="-7.47,-0.6 -0.8,3.75 7.47,0.6 0.8,-3.75" fill="#00008f"/>
<polygon transform="translate(369.77 158.07)" points="-7.47,-0.6 -0.8,3.75 7.47,0.6 0.8,-3.75" fill="#00008f"/>
<polygon transform="translate(388.44 159.58)" points="-7.47,-0.6 -0.8,3.75 7.47,0.6 0.8,-3.75" fill="#00008f"/>
<g transform="translate(407.11 161.09)">
<polygon points="-7.47,-0.6 -0.8,3.75 -0.8,-40.66 -7.47,-45.01" fill="url(#glb)"/>
<polygon points="-0.8,3.75 7.47,0.6 7.47,-43.8 -0.8,-40.66" fill="url(#grb)"/>
<polygon points="-7.47,-45.01 -0.8,-40.66 7.47,-43.8 0.8,-48.15" fill="#a3ff5c"/>
</g>
<polygon transform="translate(425.78 162.6)" points="-7.47,-0.6 -0.8,3.75 7.47,0.6 0.8,-3.75" fill="#00008f"/>
<polygon transform="translate(444.45 164.11)" points="-7.47,-0.6 -0.8,3.75 7.47,0.6 0.8,-3.75" fill="#00008f"/>
<polygon transform="translate(463.12 165.62)" points="-7.47,-0.6 -0.8,3.75 7.47,0.6 0.8,-3.75" fill="#00008f"/>
<polygon transform="translate(481.79 167.13)" points="-7.47,-0.6 -0.8,3.75 7.47,0.6 0.8,-3.75" fill="#00008f"/>
<polygon transform="translate(340.76 160.49)" points="-7.47,-0.6 -0.8,3.75 7.47,0.6 0.8,-3.75" fill="#00008f"/>
<polygon transform="translate(359.43 162)" points="-7.47,-0.6 -0.8,3.75 7.47,0.6 0.8,-3.75" fill="#00008f"/>
<polygon transform="translate(378.1 163.51)" points="-7.47,-0.6 -0.8,3.75 7.47,0.6 0.8,-3.75" fill="#00008f"/>
<polygon transform="translate(396.77 165.02)" points="-7.47,-0.6 -0.8,3.75 7.47,0.6 0.8,-3.75" fill="#00008f"/>
<g transform="translate(415.44 166.53)">
<polygon points="-7.47,-0.6 -0.8,3.75 -0.8,-20.32 -7.47,-24.67" fill="url(#glb)"/>
<polygon points="-0.8,3.75 7.47,0.6 7.47,-23.47 -0.8,-20.32" fill="url(#grb)"/>
<polygon points="-7.47,-24.67 -0.8,-20.32 7.47,-23.47 0.8,-27.82" fill="#00a8ff"/>
</g>
<polygon transform="translate(434.11 168.04)" points="-7.47,-0.6 -0.8,3.75 7.47,0.6 0.8,-3.75" fill="#00008f"/>
<polygon transform="translate(452.78 169.55)" points="-7.47,-0.6 -0.8,3.75 7.47,0.6 0.8,-3.75" fill="#00008f"/>
<polygon transform="translate(471.45 171.06)" points="-7.47,-0.6 -0.8,3.75 7.47,0.6 0.8,-3.75" fill="#00008f"/>
<polygon transform="translate(349.09 165.93)" points="-7.47,-0.6 -0.8,3.75 7.47,0.6 0.8,-3.75" fill="#00008f"/>
<polygon transform="translate(367.76 167.44)" points="-7.47,-0.6 -0.8,3.75 7.47,0.6 0.8,-3.75" fill="#00008f"/>
<polygon transform="translate(386.43 168.95)" points="-7.47,-0.6 -0.8,3.75 7.47,0.6 0.8,-3.75" fill="#00008f"/>
<polygon transform="translate(405.1 170.46)" points="-7.47,-0.6 -0.8,3.75 7.47,0.6 0.8,-3.75" fill="#00008f"/>
<polygon transform="translate(423.77 171.97)" points="-7.47,-0.6 -0.8,3.75 7.47,0.6 0.8,-3.75" fill="#00008f"/>
<polygon transform="translate(442.44 173.48)" points="-7.47,-0.6 -0.8,3.75 7.47,0.6 0.8,-3.75" fill="#00008f"/>
<polygon transform="translate(461.11 174.99)" points="-7.47,-0.6 -0.8,3.75 7.47,0.6 0.8,-3.75" fill="#00008f"/>
<polygon transform="translate(357.42 171.37)" points="-7.47,-0.6 -0.8,3.75 7.47,0.6 0.8,-3.75" fill="#00008f"/>
<polygon transform="translate(376.09 172.88)" points="-7.47,-0.6 -0.8,3.75 7.47,0.6 0.8,-3.75" fill="#00008f"/>
<polygon transform="translate(394.76 174.39)" points="-7.47,-0.6 -0.8,3.75 7.47,0.6 0.8,-3.75" fill="#00008f"/>
<polygon transform="translate(413.43 175.9)" points="-7.47,-0.6 -0.8,3.75 7.47,0.6 0.8,-3.75" fill="#00008f"/>
<polygon transform="translate(432.1 177.41)" points="-7.47,-0.6 -0.8,3.75 7.47,0.6 0.8,-3.75" fill="#00008f"/>
<polygon transform="translate(450.77 178.92)" points="-7.47,-0.6 -0.8,3.75 7.47,0.6 0.8,-3.75" fill="#00008f"/>
<polygon transform="translate(365.75 176.81)" points="-7.47,-0.6 -0.8,3.75 7.47,0.6 0.8,-3.75" fill="#00008f"/>
<polygon transform="translate(384.42 178.32)" points="-7.47,-0.6 -0.8,3.75 7.47,0.6 0.8,-3.75" fill="#00008f"/>
<polygon transform="translate(403.09 179.83)" points="-7.47,-0.6 -0.8,3.75 7.47,0.6 0.8,-3.75" fill="#00008f"/>
<polygon transform="translate(421.76 181.34)" points="-7.47,-0.6 -0.8,3.75 7.47,0.6 0.8,-3.75" fill="#00008f"/>
<polygon transform="translate(440.43 182.85)" points="-7.47,-0.6 -0.8,3.75 7.47,0.6 0.8,-3.75" fill="#00008f"/>
<polygon transform="translate(374.08 182.25)" points="-7.47,-0.6 -0.8,3.75 7.47,0.6 0.8,-3.75" fill="#00008f"/>
<polygon transform="translate(392.75 183.76)" points="-7.47,-0.6 -0.8,3.75 7.47,0.6 0.8,-3.75" fill="#00008f"/>
<polygon transform="translate(411.42 185.27)" points="-7.47,-0.6 -0.8,3.75 7.47,0.6 0.8,-3.75" fill="#00008f"/>
<polygon transform="translate(430.09 186.78)" points="-7.47,-0.6 -0.8,3.75 7.47,0.6 0.8,-3.75" fill="#00008f"/>
<polygon transform="translate(382.41 187.69)" points="-7.47,-0.6 -0.8,3.75 7.47,0.6 0.8,-3.75" fill="#00008f"/>
<polygon transform="translate(401.08 189.2)" points="-7.47,-0.6 -0.8,3.75 7.47,0.6 0.8,-3.75" fill="#00008f"/>
<polygon transform="translate(419.75 190.71)" points="-7.47,-0.6 -0.8,3.75 7.47,0.6 0.8,-3.75" fill="#00008f"/>
<polygon transform="translate(390.74 193.13)" points="-7.47,-0.6 -0.8,3.75 7.47,0.6 0.8,-3.75" fill="#00008f"/>
<polygon transform="translate(409.41 194.64)" points="-7.47,-0.6 -0.8,3.75 7.47,0.6 0.8,-3.75" fill="#00008f"/>
<polygon transform="translate(399.07 198.57)" points="-7.47,-0.6 -0.8,3.75 7.47,0.6 0.8,-3.75" fill="#00008f"/>
</g>
<g font-family="'Liberation Sans', Arial, sans-serif" font-size="7.5" fill="#111" stroke="#111" stroke-width="0.18">
<text x="297.8" y="140.7" text-anchor="end" fill="#333" stroke="none" font-size="7.9">0</text>
<text x="297.8" y="99.2" text-anchor="end" fill="#333" stroke="none" font-size="7.9">0.5</text>
<text x="297.8" y="57.7" text-anchor="end" fill="#333" stroke="none" font-size="7.9">1</text>
<text transform="translate(307.03 149.24) rotate(-47)" text-anchor="end" y="2.2">20</text>
<text transform="translate(315.36 154.57) rotate(-47)" text-anchor="end" y="2.2">21</text>
<text transform="translate(323.69 159.9) rotate(-47)" text-anchor="end" y="2.2">22</text>
<text transform="translate(332.02 165.23) rotate(-47)" text-anchor="end" y="2.2">23</text>
<text transform="translate(340.35 170.56) rotate(-47)" text-anchor="end" y="2.2">24</text>
<text transform="translate(348.68 175.89) rotate(-47)" text-anchor="end" y="2.2">25</text>
<text transform="translate(357.01 181.22) rotate(-47)" text-anchor="end" y="2.2">26</text>
<text transform="translate(365.34 186.55) rotate(-47)" text-anchor="end" y="2.2">27</text>
<text transform="translate(373.67 191.88) rotate(-47)" text-anchor="end" y="2.2">28</text>
<text transform="translate(382 197.21) rotate(-47)" text-anchor="end" y="2.2">29</text>
<text transform="translate(390.33 202.54) rotate(-47)" text-anchor="end" y="2.2">30</text>
<text transform="translate(405.9 204.01) rotate(52)" y="2.2" font-size="7.2">20</text>
<text transform="translate(416.24 200.15) rotate(52)" y="2.2" font-size="7.2">21</text>
<text transform="translate(426.58 196.29) rotate(52)" y="2.2" font-size="7.2">22</text>
<text transform="translate(436.92 192.43) rotate(52)" y="2.2" font-size="7.2">23</text>
<text transform="translate(447.26 188.57) rotate(52)" y="2.2" font-size="7.2">24</text>
<text transform="translate(457.6 184.71) rotate(52)" y="2.2" font-size="7.2">25</text>
<text transform="translate(467.94 180.85) rotate(52)" y="2.2" font-size="7.2">26</text>
<text transform="translate(478.28 176.99) rotate(52)" y="2.2" font-size="7.2">27</text>
<text transform="translate(488.62 173.13) rotate(52)" y="2.2" font-size="7.2">28</text>
<text transform="translate(498.96 169.27) rotate(52)" y="2.2" font-size="7.2">29</text>
<text transform="translate(509.3 165.41) rotate(52)" y="2.2" font-size="7.2">30</text>
</g>
<g font-family="'Liberation Serif', 'Times New Roman', serif" font-size="8.75" fill="#111" stroke="#111" stroke-width="0.2" text-anchor="middle">
<text transform="translate(334.8 190.9) rotate(35.3)" y="2.4">Order-pre-tighting state</text>
<text transform="translate(455.2 202.1) rotate(-20.3)" y="2.4">Order-1,3 sctors without pre-tighting force</text>
</g>
<rect x="526.2" y="5.5" width="8.4" height="207.1" fill="url(#gc)"/>
<g font-family="'Liberation Sans', Arial, sans-serif" font-size="7.9" fill="#333">
<text x="537.4" y="215.5">0</text>
<text x="537.4" y="194.5">0.1</text>
<text x="537.4" y="173.49">0.2</text>
<text x="537.4" y="152.49">0.3</text>
<text x="537.4" y="131.48">0.4</text>
<text x="537.4" y="110.48">0.5</text>
<text x="537.4" y="89.48">0.6</text>
<text x="537.4" y="68.47">0.7</text>
<text x="537.4" y="47.47">0.8</text>
<text x="537.4" y="26.46">0.9</text>
</g>
<text x="416.4" y="253.5" text-anchor="middle" font-family="'Liberation Serif', serif" font-size="10.4" fill="#111">(<tspan font-weight="bold">b</tspan>)</text>
</g>
</svg></body></html>
